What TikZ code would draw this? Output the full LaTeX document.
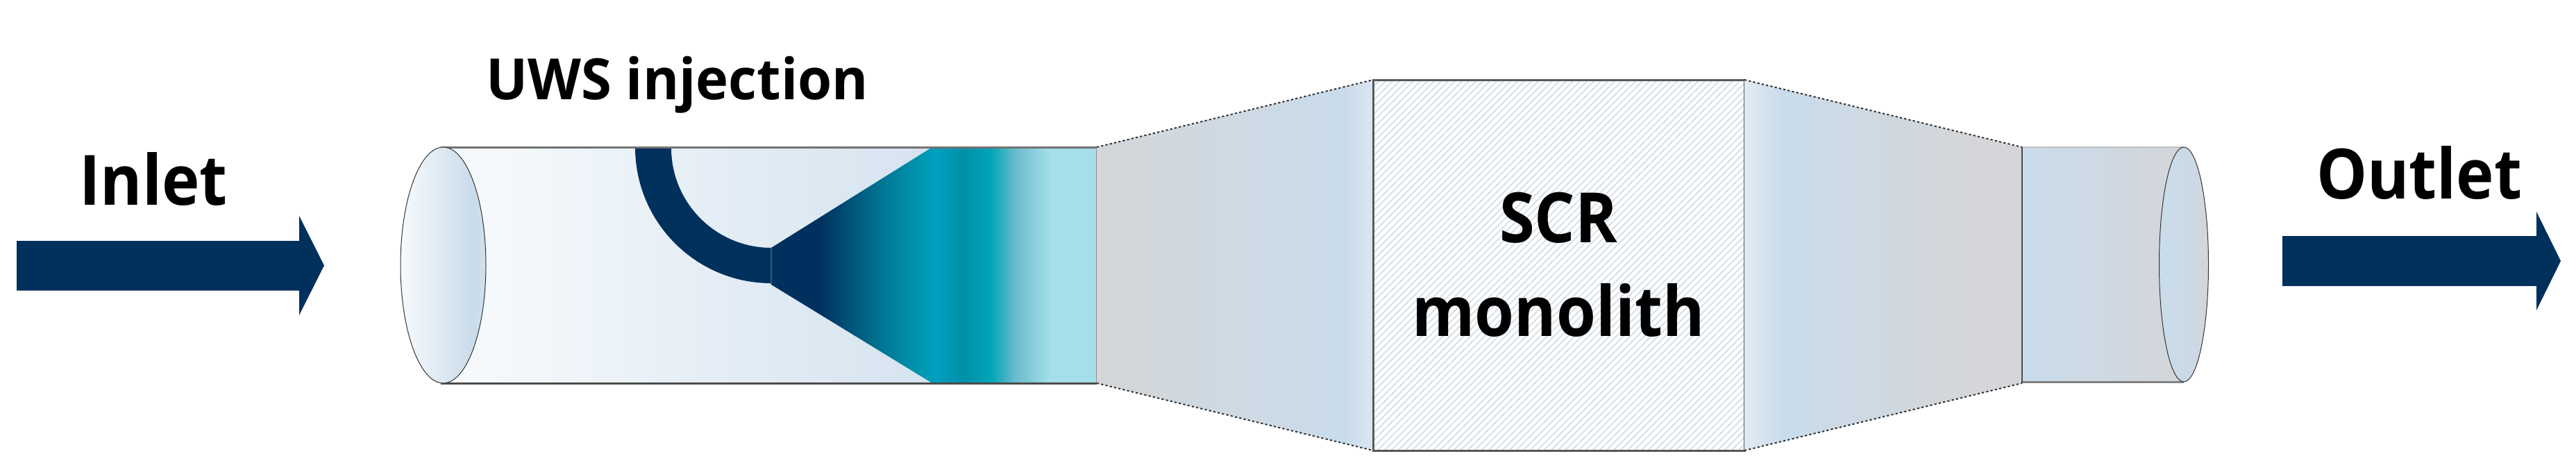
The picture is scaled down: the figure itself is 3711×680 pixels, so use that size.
\documentclass[tikz,border=0pt]{standalone}
\usepackage{fontspec}
\setmainfont{Open Sans}
\newfontfamily\labfont[FakeStretch=0.92]{Open Sans}
\newfontfamily\uwsfont[FakeStretch=0.97]{Open Sans}
\definecolor{navy}{HTML}{00305C}
\definecolor{hatchc}{HTML}{D3DEE9}
\pgfdeclarehorizontalshading{tubeS}{100bp}{rgb(0bp)=(0.97,0.98,0.99); rgb(25bp)=(0.97,0.98,0.99); rgb(29bp)=(0.96,0.975,0.985); rgb(50bp)=(0.88,0.92,0.955); rgb(75bp)=(0.80,0.86,0.92); rgb(100bp)=(0.80,0.86,0.92)}
\pgfdeclarehorizontalshading{inEll}{100bp}{rgb(0bp)=(0.97,0.98,0.99); rgb(25bp)=(0.97,0.98,0.99); rgb(68bp)=(0.79,0.86,0.92); rgb(75bp)=(0.82,0.88,0.93); rgb(100bp)=(0.82,0.88,0.93)}
\pgfdeclarehorizontalshading{spray}{100bp}{rgb(0bp)=(0,0.188,0.361); rgb(25bp)=(0,0.188,0.361); rgb(32.4bp)=(0,0.19,0.37); rgb(38bp)=(0,0.353,0.49); rgb(43.3bp)=(0,0.498,0.612); rgb(48bp)=(0,0.588,0.69); rgb(50.2bp)=(0,0.627,0.75); rgb(54.4bp)=(0,0.565,0.659); rgb(58.7bp)=(0,0.647,0.722); rgb(62.5bp)=(0.42,0.737,0.80); rgb(67.9bp)=(0.647,0.875,0.918); rgb(75bp)=(0.647,0.875,0.918); rgb(100bp)=(0.647,0.875,0.918)}
\pgfdeclarehorizontalshading{coneA}{100bp}{rgb(0bp)=(0.83,0.84,0.85); rgb(25bp)=(0.83,0.84,0.85); rgb(70bp)=(0.79,0.86,0.92); rgb(75bp)=(0.86,0.90,0.95); rgb(100bp)=(0.86,0.90,0.95)}
\pgfdeclarehorizontalshading{coneB}{100bp}{rgb(0bp)=(0.88,0.92,0.96); rgb(25bp)=(0.88,0.92,0.96); rgb(32bp)=(0.79,0.86,0.92); rgb(65bp)=(0.83,0.84,0.85); rgb(75bp)=(0.83,0.84,0.85); rgb(100bp)=(0.83,0.84,0.85)}
\pgfdeclarehorizontalshading{tubeB}{100bp}{rgb(0bp)=(0.79,0.86,0.92); rgb(25bp)=(0.79,0.86,0.92); rgb(75bp)=(0.83,0.84,0.85); rgb(100bp)=(0.83,0.84,0.85)}
\pgfdeclarehorizontalshading{outEll}{100bp}{rgb(0bp)=(0.79,0.86,0.92); rgb(25bp)=(0.79,0.86,0.92); rgb(60bp)=(0.80,0.85,0.90); rgb(70bp)=(0.83,0.84,0.85); rgb(75bp)=(0.83,0.84,0.85); rgb(100bp)=(0.83,0.84,0.85)}
\tikzset{
  label text/.style={font=\labfont\fontsize{50}{60}\selectfont\bfseries, inner sep=0pt, anchor=base, text=black},
  small text/.style={font=\uwsfont\fontsize{41}{50}\selectfont\bfseries, inner sep=0pt, anchor=base west, text=black},
  outline/.style={draw=black!65, line width=1.5pt},
  edge/.style={draw=black!80, line width=1pt, dash pattern=on 1.6pt off 1.6pt},
  rim/.style={draw=black!80, line width=0.5pt},
}
\begin{document}
\begin{tikzpicture}[x=0.5pt,y=-0.5pt]
\useasboundingbox (0,0) rectangle (3711,680);
% inlet arrow
\fill[navy] (24,347) -- (431,347) -- (431,311) -- (467,382.5) -- (431,454) -- (431,418.5) -- (24,418.5) -- cycle;
% inlet tube
\path[shading=tubeS] (635,212) rectangle (1580,552);
% injector
\fill[navy] (915,212) arc[start angle=180,end angle=90,radius=196] -- (1111,357) arc[start angle=90,end angle=180,radius=144] -- cycle;
% spray
\path[shading=spray] (1111,357) -- (1343,212) -- (1580,212) -- (1580,552) -- (1343,552) -- (1111,410) -- cycle;
\draw[draw=navy!80!white, line width=0.6pt] (1111,357) -- (1111,410);
\draw[draw=black!55, line width=1.5pt] (635,212) -- (1580,212);
\draw[draw=black!70, line width=1.5pt] (635,552) -- (1580,552);
\draw[draw=black!45, line width=0.8pt] (1580,212) -- (1580,552);
% inlet ellipse
\path[shading=inEll,rim] (638.5,382) ellipse[x radius=61.5,y radius=170];
% cone A
\path[shading=coneA] (1580,212) -- (1978,115) -- (1978,649) -- (1580,552) -- cycle;
\draw[edge] (1580,212) -- (1978,115) (1580,552) -- (1978,649);
% monolith
\begin{scope}
\clip (1978,115) rectangle (2513,649);
\fill[white] (1978,115) rectangle (2513,649);
\foreach \i in {0,...,107} {
  \draw[hatchc, line width=0.9pt] ({1978+\i*10},115) -- ({1978+\i*10-534},649);
}
\end{scope}
\draw[outline] (1978,115) rectangle (2513,649);
% cone B
\path[shading=coneB] (2513,115) -- (2913,212) -- (2913,552) -- (2513,649) -- cycle;
\draw[edge] (2513,115) -- (2913,212) (2513,649) -- (2913,552);
% outlet tube
\path[shading=tubeB] (2913,212) rectangle (3146,550);
\draw[draw=black!25, line width=1.2pt] (2913,212) -- (3146,212);
\draw[draw=black!50, line width=1.5pt] (2913,550) -- (3146,550);
\draw[draw=black!70, line width=1.1pt] (2913,212) -- (2913,552);
\path[shading=outEll,rim] (3146,381) ellipse[x radius=35.5,y radius=169];
% outlet arrow
\fill[navy] (3288,340) -- (3654,340) -- (3654,305) -- (3689,376) -- (3654,447) -- (3654,412) -- (3288,412) -- cycle;
% text
\node[label text] (inlet) at (221,295) {Inlet};
\node[small text] (uws) at (700,143) {UWS injection};
\node[label text] (scr) at (2245,349) {SCR};
\node[label text] (mono) at (2245,484) {monolith};
\node[label text] (outlet) at (3485,286) {Outlet};
\end{tikzpicture}
\end{document}
